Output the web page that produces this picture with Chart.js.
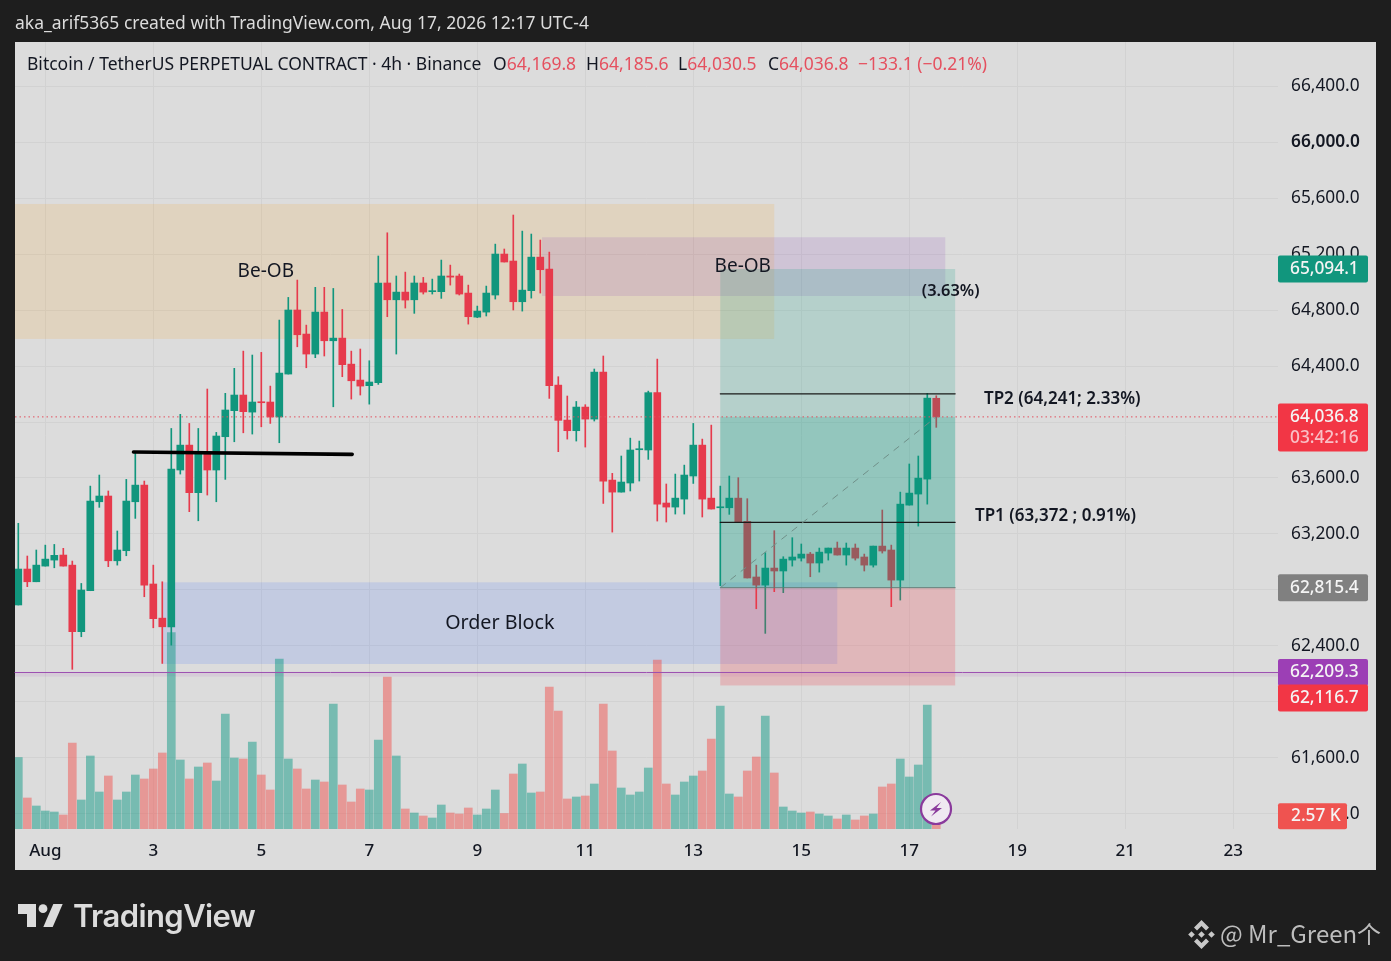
<!DOCTYPE html>
<html>
<head>
<meta charset="utf-8">
<title>BTC 4h</title>
<script src="https://cdn.jsdelivr.net/npm/chart.js@4"></script>
<style>
html, body { margin: 0; padding: 0; background: #1e1e1e; width: 1391px; height: 961px; overflow: hidden; }
#panel { position: absolute; left: 15px; top: 42px; width: 1361px; height: 828px; background: #dcdcdc; }
canvas { position: absolute; left: 0; top: 0; }
.t { position: absolute; transform: translateY(-50%); white-space: nowrap; font-family: "Noto Sans", sans-serif; }
.lg { font-size: 17.5px; top: 63px; color: #131722; z-index: 2; }
.rd { color: #e5505f; }
svg { position: absolute; z-index: 3; }
</style>
</head>
<body>
<div id="panel"></div>
<canvas id="c" width="1391" height="961"></canvas>

<div class="t" style="left:15px;top:22px;font-size:17.5px;color:#dcdcdc;z-index:2">aka_arif5365 created with TradingView.com, Aug 17, 2026 12:17 UTC-4</div>
<div class="t lg" style="left:27px">Bitcoin / TetherUS PERPETUAL CONTRACT · 4h · Binance</div>
<div class="t lg" style="left:493px">O<span class="rd">64,169.8</span></div>
<div class="t lg" style="left:586px">H<span class="rd">64,185.6</span></div>
<div class="t lg" style="left:678px">L<span class="rd">64,030.5</span></div>
<div class="t lg" style="left:768px">C<span class="rd">64,036.8</span></div>
<div class="t lg rd" style="left:858px">−133.1 (−0.21%)</div>

<svg style="left:0;top:0" width="1391" height="961">
	<path d="M18 904H36V927H27V914H18Z" fill="#dcdcdc"/>
	<circle cx="43" cy="908.7" r="4.4" fill="#dcdcdc"/>
	<path d="M53.3 904H62.7L52.7 927H43.3Z" fill="#dcdcdc"/>
	<!-- binance mark -->
	<g fill="#c8c8c8">
		<path d="M1201.5 920l7.5 7.5-3 3-4.5-4.5-4.5 4.5-3-3z"/>
		<path d="M1201.5 949l7.5-7.5-3-3-4.5 4.5-4.5-4.5-3 3z"/>
		<path d="M1191.5 931.2l3.3 3.3-3.3 3.3-3.3-3.3z"/>
		<path d="M1211.5 931.2l3.3 3.3-3.3 3.3-3.3-3.3z"/>
		<path d="M1201.5 931.2l3.3 3.3-3.3 3.3-3.3-3.3z"/>
	</g>
	<!-- flash icon -->
	<circle cx="936" cy="809" r="15" fill="#efe9f1" stroke="#8a3a9c" stroke-width="2.2"/>
	<path d="M941 802L930 810.5H935.5L931 816.5L942 808H936.5Z" fill="#8a3a9c"/>
</svg>
<div class="t" style="left:73px;top:915px;font-size:31px;font-weight:600;color:#dcdcdc;z-index:2;font-family:Inter,sans-serif;letter-spacing:-0.6px">TradingView</div>
<div class="t" style="left:1220px;top:932px;font-size:24px;color:#bdbdbd;z-index:2;font-family:'Noto Sans CJK SC','Noto Sans',sans-serif">@ Mr_Green个</div>

<script>
// candles, one per 4h bar
const opens = [
	62692,62949,62858,62970,63013,63049,62977,62501,62794,63430,
	63471,63008,63080,63430,63549,62842,62598,62536,63657,63835,
	63495,63771,63657,63895,64081,64193,64071,64143,64143,64036,
	64343,64801,64629,64486,64786,64581,64600,64414,64300,64260,
	64281,64994,64874,64929,64874,64994,64932,64932,65044,65044,
	64922,64750,64786,64908,65201,65151,64860,64939,65179,65094,
	64264,64014,63938,64107,64021,64357,63585,63499,63564,63802,
	63800,64210,63421,63392,63449,63614,63835,63456,63387,63387,
	63456,63290,62892,62834,62956,62935,63013,63027,63056,62992,
	63063,63099,63049,63099,63035,62977,63113,63085,62870,63406,
	63485,63592,64169.8
];
const highs = [
	63276,63042,63085,63120,63125,63097,63006,62846,63542,63621,
	63507,63221,63590,63776,63578,62977,62858,63954,64055,63990,
	63954,64236,63926,64205,64384,64507,64479,64498,64257,64729,
	64891,65015,64693,64963,64963,64955,64805,64507,64522,64438,
	65187,65353,65044,65072,65044,65034,65022,65158,65122,65058,
	64979,64829,64972,65272,65237,65480,65365,65344,65301,65215,
	64324,64186,64147,64124,64379,64472,63633,63757,63885,63864,
	64221,64450,63557,63628,63692,63990,63878,63978,63542,63614,
	63602,63452,62977,63066,63223,63037,63173,63128,63068,63099,
	63099,63142,63135,63128,63056,63113,63371,63120,63499,63700,
	63757,64205,64188
];
const lows = [
	62692,62823,62858,62970,62958,62970,62232,62465,62794,63390,
	62966,62977,63044,63311,62751,62529,62274,62405,63628,63359,
	63294,63478,63430,63590,63859,63923,63914,63966,63990,63852,
	64343,64538,64388,64460,64472,64109,64324,64164,64193,64128,
	64269,64753,64486,64815,64777,64915,64915,64884,64979,64908,
	64700,64746,64758,64879,65144,64801,64793,64886,64922,64169,
	63788,63878,63864,63821,64007,63418,63213,63499,63507,63578,
	63733,63292,63285,63342,63342,63561,63321,63378,62830,63340,
	63285,62885,62665,62489,62787,62780,62970,63006,62894,62927,
	63013,63049,62977,63013,62935,62963,63063,62680,62727,63406,
	63256,63413,63962
];
const closes = [
	62949,62858,62977,63020,63047,62970,62501,62799,63435,63471,
	63008,63085,63435,63549,62834,62594,62536,63664,63835,63495,
	63771,63657,63900,64086,64193,64074,64143,64138,64036,64350,
	64801,64624,64486,64786,64581,64600,64410,64295,64257,64286,
	64994,64874,64929,64872,64994,64929,64939,65044,65036,64915,
	64753,64793,64922,65201,65144,64860,64943,65179,65089,64260,
	64012,63938,64107,64021,64357,63578,63499,63571,63800,63809,
	64210,63413,63392,63456,63621,63835,63449,63378,63392,63456,
	63285,62885,62834,62956,62935,63020,63035,63056,62992,63070,
	63099,63049,63099,63027,62977,63113,63078,62870,63413,63492,
	63599,64171,64036.8
];
// volume in K
const volumes = [
	14.3,6.2,4.6,3.6,3.4,2.8,17.2,5.8,14.6,7.4,
	10.6,5.8,7.4,10.8,10,12,15.2,39.3,13.8,10,
	12.4,13.2,9.6,23,14.2,14,17.4,10.8,7.8,34,
	14,12,8,9.8,9.4,25,8.8,5.4,8,7.8,
	17.8,30.4,14.6,4,3.2,2.6,2.2,4.8,3.2,3,
	4.2,2.8,4,7.8,3.1,11,13,7.2,7.4,28.4,
	23.6,6,6.4,6.6,9,25,15.6,8.2,6.8,7.4,
	12.2,33.8,9,6.8,9.4,10.6,11.6,18,24.6,7,
	6.4,11.6,14.4,22.6,11.2,4.4,3.6,3.2,3.4,3,
	2.6,2,2.8,1.8,2.6,3,8.4,9,14,10.4,
	12.8,24.8,2.57
];
const dayTicks = [3,15,27,39,51,63,75,87,99,111,123,135];
const dayLabels = ['Aug','3','5','7','9','11','13','15','17','19','21','23'];
const priceTicks = [61200,61600,62000,62400,62800,63200,63600,64000,64400,64800,65200,65600,66000,66400];

// drawing levels
const entry = 62815.4, target = 65094.1, stop = 62116.7, last = 64036.8, pivot = 62209.3;
const tp1 = 63283, tp2 = 64202;

const green = '#11967d', red = '#e63a4c';
const up = i => closes[i] >= opens[i];

// zones: bar from, bar to, price top, price bottom
const zonesBehind = [
	[-1, 84, 65559, 64594, 'rgba(255,152,0,0.13)'],
	[16.1, 91, 62854, 62270, 'rgba(41,98,255,0.14)'],
	[58.2, 103, 65321, 64901, 'rgba(120,40,176,0.13)'],
	[-1, 141, pivot, 62180, 'rgba(156,39,176,0.09)']
];
const zonesOver = [
	[78, 104.1, target, entry, 'rgba(8,153,129,0.18)'],
	[78, 104.1, last, entry, 'rgba(8,153,129,0.2)'],
	[78, 104.1, entry, stop, 'rgba(242,54,69,0.22)']
];
// text notes: bar, price, text, align, font
const notes = [
	[27.5, 65073, 'Be-OB', 'center', '19px "Noto Sans"'],
	[80.5, 65108, 'Be-OB', 'center', '19px "Noto Sans"'],
	[53.5, 62563, 'Order Block', 'center', '19.7px "Noto Sans"'],
	[103.6, 64937, '(3.63%)', 'center', '600 16.4px "Noto Sans"'],
	[107.3, 64165, 'TP2 (64,241; 2.33%)', 'left', '600 17px "Noto Sans"'],
	[106.3, 63328, 'TP1 (63,372 ; 0.91%)', 'left', '600 17px "Noto Sans"']
];
// price tags on the axis: value, text, colour, shift so that they stack
const tags = [
	[target, '65,094.1', '#11967d', 0],
	[entry, '62,815.4', '#808080', 0],
	[pivot, '62,209.3', '#9c3fb5', 0],
	[stop, '62,116.7', '#f23645', 12.6]
];

function line(ctx, x1, y1, x2, y2, color, width, dash) {
	ctx.save();
	ctx.strokeStyle = color;
	ctx.lineWidth = width;
	ctx.setLineDash(dash || []);
	ctx.lineCap = dash ? 'butt' : 'round';
	ctx.beginPath();
	ctx.moveTo(x1, y1);
	ctx.lineTo(x2, y2);
	ctx.stroke();
	ctx.restore();
}

function zone(chart, z) {
	const { x, y } = chart.scales;
	const a = chart.chartArea;
	const ctx = chart.ctx;
	const x1 = Math.max(x.getPixelForValue(z[0]), a.left), x2 = Math.min(x.getPixelForValue(z[1]), a.right);
	ctx.fillStyle = z[4];
	ctx.fillRect(x1, y.getPixelForValue(z[2]), x2 - x1, y.getPixelForValue(z[3]) - y.getPixelForValue(z[2]));
}

function tag(ctx, x, yc, w, h, color, draw) {
	ctx.fillStyle = color;
	ctx.beginPath();
	ctx.roundRect(x, yc - h / 2, w, h, 2);
	ctx.fill();
	draw();
}

const drawings = {
	id: 'drawings',
	beforeDatasetsDraw(chart) {
		zonesBehind.forEach(z => zone(chart, z));
	},
	afterDatasetsDraw(chart) {
		const { x, y } = chart.scales;
		const a = chart.chartArea;
		const ctx = chart.ctx;
		zonesOver.forEach(z => zone(chart, z));

		const bx1 = x.getPixelForValue(78), bx2 = x.getPixelForValue(104.1);
		line(ctx, bx1, y.getPixelForValue(tp2), bx2, y.getPixelForValue(tp2), '#1a1a1a', 1.2);
		line(ctx, bx1, y.getPixelForValue(tp1), bx2, y.getPixelForValue(tp1), '#1a1a1a', 1.2);
		line(ctx, bx1, y.getPixelForValue(entry), bx2, y.getPixelForValue(entry), '#5f7a75', 1);
		line(ctx, bx1, y.getPixelForValue(entry), x.getPixelForValue(102), y.getPixelForValue(last), '#6f8f88', 1, [7, 6]);

		line(ctx, a.left, y.getPixelForValue(last), a.right, y.getPixelForValue(last), '#e2505f', 1, [1.5, 3]);
		line(ctx, a.left, y.getPixelForValue(pivot), a.right, y.getPixelForValue(pivot), '#9c4fb0', 1);

		// hand drawn level
		line(ctx, x.getPixelForValue(12.8), y.getPixelForValue(63786), x.getPixelForValue(37.1), y.getPixelForValue(63769), '#000', 3.6);

		ctx.fillStyle = '#131722';
		ctx.textBaseline = 'middle';
		notes.forEach(n => {
			ctx.font = n[4];
			ctx.textAlign = n[3];
			ctx.fillText(n[2], x.getPixelForValue(n[0]), y.getPixelForValue(n[1]));
		});
	},
	afterDraw(chart) {
		const { y, y2 } = chart.scales;
		const ctx = chart.ctx;
		const tx = 1290;
		ctx.textAlign = 'left';
		ctx.textBaseline = 'middle';
		ctx.font = '500 17.3px "Noto Sans"';
		tags.forEach(t => {
			const yc = y.getPixelForValue(t[0]) + t[3];
			tag(ctx, 1278, yc, 90, 27, t[2], () => {
				ctx.fillStyle = '#f4f4f4';
				ctx.fillText(t[1], tx, yc);
			});
		});
		const yl = y.getPixelForValue(last);
		tag(ctx, 1278, yl + 10.5, 90, 48, '#f23645', () => {
			ctx.fillStyle = '#f4f4f4';
			ctx.fillText('64,036.8', tx, yl);
			ctx.fillStyle = '#f9c0c6';
			ctx.fillText('03:42:16', tx, yl + 21);
		});
		const yv = y2.getPixelForValue(volumes[volumes.length - 1]);
		tag(ctx, 1278, yv, 69, 26, '#ef5350', () => {
			ctx.fillStyle = '#f4f4f4';
			ctx.fillText('2.57 K', tx + 1, yv);
		});
	}
};

new Chart(document.getElementById('c'), {
	type: 'bar',
	data: {
		datasets: [
			{
				data: opens.map((o, i) => ({ x: i, y: [o, closes[i]] })),
				backgroundColor: opens.map((o, i) => up(i) ? green : red),
				barThickness: 7,
				minBarLength: 1,
				grouped: false,
				order: 1
			},
			{
				data: lows.map((l, i) => ({ x: i, y: [l, highs[i]] })),
				backgroundColor: lows.map((l, i) => up(i) ? green : red),
				barThickness: 1,
				grouped: false,
				order: 2
			},
			{
				data: volumes.map((v, i) => ({ x: i, y: v })),
				backgroundColor: volumes.map((v, i) => up(i) ? 'rgba(8,150,130,0.48)' : 'rgba(239,83,80,0.5)'),
				barThickness: 8,
				grouped: false,
				yAxisID: 'y2',
				order: 3
			}
		]
	},
	options: {
		responsive: false,
		animation: false,
		devicePixelRatio: 1,
		layout: { padding: { left: 15, right: 15, top: 42, bottom: 91 } },
		plugins: { legend: { display: false }, tooltip: { enabled: false } },
		scales: {
			x: {
				type: 'linear',
				offset: false,
				min: -0.367,
				max: 139.97,
				grid: { offset: false, color: '#d2d2d2', drawTicks: false },
				border: { display: false },
				afterBuildTicks: ax => { ax.ticks = dayTicks.map(v => ({ value: v })); },
				afterFit: ax => { ax.height = 41; },
				ticks: {
					autoSkip: false,
					maxRotation: 0,
					padding: 12,
					color: '#131722',
					font: { family: 'Noto Sans', size: 17, weight: '500' },
					callback: v => dayLabels[dayTicks.indexOf(v)]
				}
			},
			y: {
				position: 'right',
				min: 61090.4,
				max: 66717,
				grid: { color: '#d2d2d2', drawTicks: false },
				border: { display: false },
				afterBuildTicks: ax => { ax.ticks = priceTicks.map(v => ({ value: v })); },
				afterFit: ax => { ax.width = 98; },
				ticks: {
					autoSkip: false,
					padding: 13,
					color: '#131722',
					font: c => ({ family: 'Noto Sans', size: 17.3, weight: c.tick && c.tick.value == 66000 ? '600' : '400' }),
					callback: v => v.toLocaleString('en-US', { minimumFractionDigits: 1 })
				}
			},
			y2: {
				position: 'right',
				display: false,
				min: 0,
				max: 157.4
			}
		}
	},
	plugins: [drawings]
});
</script>
</body>
</html>
